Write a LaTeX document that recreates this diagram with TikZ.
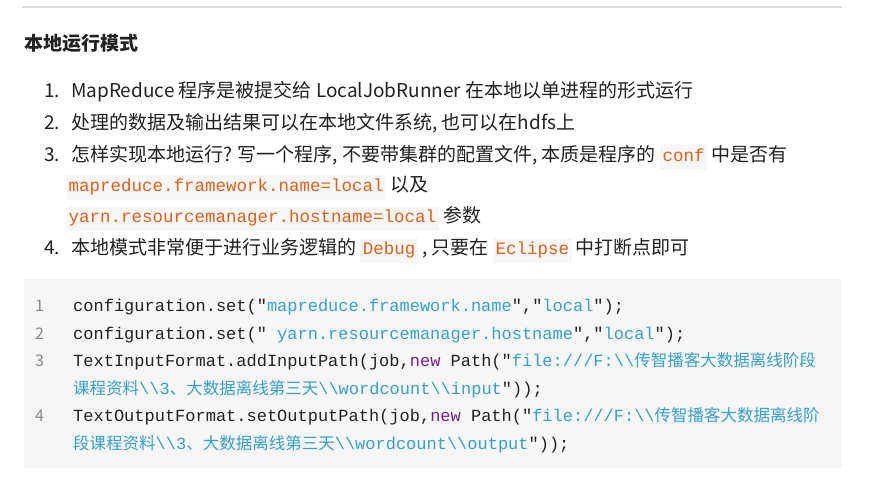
\documentclass[tikz,border=0pt]{standalone}
\usepackage{fontspec}
\setmainfont{Noto Sans CJK SC}
\newfontfamily\cjk{Noto Sans CJK SC}
\newfontfamily\mono{Liberation Mono}
\definecolor{rule}{HTML}{DDDDDD}
\definecolor{codebg}{HTML}{F6F6F6}
\definecolor{icbg}{HTML}{F7F7F7}
\definecolor{icfg}{HTML}{E0601E}
\definecolor{strc}{HTML}{3A9FC9}
\definecolor{kw}{HTML}{7A1F8A}
\definecolor{num}{HTML}{888888}
\definecolor{txt}{HTML}{222222}
\newcommand\ic[1]{{\setlength\fboxsep{2.5pt}\colorbox{icbg}{\mono\fontsize{17.5}{20}\selectfont\color{icfg}\strut #1}}}
\newcommand\cz[1]{{\cjk\fontsize{16.5}{18}\selectfont #1}}
\begin{document}
\begin{tikzpicture}[x=1pt,y=-1pt,
  body/.style={anchor=base west,inner sep=0pt,font=\fontsize{19}{22}\selectfont,text=txt},
  lnum/.style={anchor=base west,inner sep=0pt,font=\fontsize{16}{18}\selectfont,text=num},
  code/.style={anchor=base west,inner sep=0pt,font=\mono\fontsize{17}{20}\selectfont,text=txt}]
\useasboundingbox (0,0) rectangle (872,485);
\fill[white] (0,0) rectangle (872,485);
\draw[rule,line width=1.2pt] (22,7) coordinate (r1) -- (842,7) coordinate (r2);
\node[body,font=\bfseries\fontsize{19}{22}\selectfont] (h) at (24,50) {本地运行模式};
\node[body] (n1) at (44,97) {1.};
\node[body] (t1) at (71,97) {MapReduce 程序是被提交给 LocalJobRunner 在本地以单进程的形式运行};
\node[body] (n2) at (44,129) {2.};
\node[body] (t2) at (71,129) {处理的数据及输出结果可以在本地文件系统, 也可以在hdfs上};
\node[body] (n3) at (44,161) {3.};
\node[body] (t3) at (71,161) {怎样实现本地运行? 写一个程序, 不要带集群的配置文件, 本质是程序的 \ic{conf} 中是否有};
\node[body] (t3b) at (66,191) {\ic{mapreduce.framework.name=local} 以及};
\node[body] (t3c) at (66,222) {\ic{yarn.resourcemanager.hostname=local} 参数};
\node[body] (n4) at (44,254) {4.};
\node[body] (t4) at (71,254) {本地模式非常便于进行业务逻辑的 \ic{Debug} , 只要在 \ic{Eclipse} 中打断点即可};
\fill[codebg] (24,279) rectangle (842,468);
\node[lnum] (l1) at (35,311) {1};
\node[code] (c1) at (73,311) {configuration.set("\textcolor{strc}{mapreduce.framework.name}","\textcolor{strc}{local}");};
\node[lnum] (l2) at (35,339) {2};
\node[code] (c2) at (73,339) {configuration.set("\textcolor{strc}{\ yarn.resourcemanager.hostname}","\textcolor{strc}{local}");};
\node[lnum] (l3) at (35,366) {3};
\node[code] (c3) at (73,366) {TextInputFormat.addInputPath(job,\textcolor{kw}{new} Path("\textcolor{strc}{file:///F:\textbackslash\textbackslash\cz{传智播客大数据离线阶段}}};
\node[code,text=strc] (c3b) at (73,394) {\cz{课程资料}\textbackslash\textbackslash 3\cz{、大数据离线第三天}\textbackslash\textbackslash wordcount\textbackslash\textbackslash input\textcolor{txt}{"));}};
\node[lnum] (l4) at (35,421) {4};
\node[code] (c4) at (73,421) {TextOutputFormat.setOutputPath(job,\textcolor{kw}{new} Path("\textcolor{strc}{file:///F:\textbackslash\textbackslash\cz{传智播客大数据离线阶}}};
\node[code,text=strc] (c4b) at (73,449) {\cz{段课程资料}\textbackslash\textbackslash 3\cz{、大数据离线第三天}\textbackslash\textbackslash wordcount\textbackslash\textbackslash output\textcolor{txt}{"));}};
\end{tikzpicture}
\end{document}
